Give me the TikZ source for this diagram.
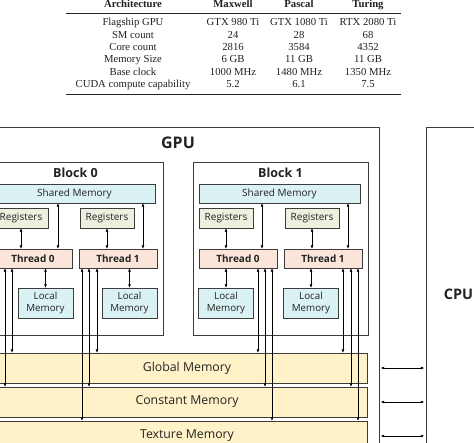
\documentclass[tikz,border=0pt]{standalone}
\usepackage{fontspec}
\setmainfont{Open Sans}
\newfontfamily\tabfont{Liberation Serif}
\usetikzlibrary{arrows.meta,calc}
\definecolor{cyanfill}{HTML}{DAF2F3}
\definecolor{regfill}{HTML}{EBF1DE}
\definecolor{thrfill}{HTML}{FBE4DA}
\definecolor{memfill}{HTML}{FFF2C9}
\definecolor{edge}{HTML}{3C3C3C}
\definecolor{ink}{HTML}{222222}
\begin{document}
\begin{tikzpicture}[x=1pt,y=-1pt,
  box/.style={draw=edge, line width=0.7pt, inner sep=0pt, outer sep=0pt, text=ink, font=\fontsize{10}{12}\selectfont},
  shared/.style={box, fill=cyanfill, minimum width=161pt, minimum height=19pt},
  reg/.style={box, fill=regfill, minimum width=54pt, minimum height=20pt},
  thr/.style={box, fill=thrfill, minimum width=78pt, minimum height=19pt, font=\fontsize{10}{12}\selectfont\bfseries},
  loc/.style={box, fill=cyanfill, minimum width=55pt, minimum height=30pt, align=center, font=\fontsize{9.8}{12.7}\selectfont},
  mem/.style={box, fill=memfill, minimum width=387pt, minimum height=30pt},
  memtxt/.style={inner sep=0pt, text=ink, font=\fontsize{12.3}{14}\selectfont},
  blk/.style={draw=edge, line width=0.7pt, minimum width=175pt, minimum height=173pt, inner sep=0pt, outer sep=0pt},
  blklbl/.style={inner sep=0pt, text=ink, font=\fontsize{12.5}{14}\selectfont\bfseries},
  outerbox/.style={draw=edge, line width=0.8pt, inner sep=0pt, outer sep=0pt},
  arr/.style={{Latex[length=3.6pt,width=2.8pt]}-{Latex[length=3.6pt,width=2.8pt]}, line width=0.65pt, draw=black},
  tab/.style={inner sep=0pt, anchor=base, text=ink, font=\tabfont\fontsize{10.7}{12}\selectfont},
  tabh/.style={tab, font=\tabfont\bfseries\fontsize{10.7}{12}\selectfont},
  rulestyle/.style={line width=0.8pt, draw=ink}
]
\clip (0,0) rectangle (474,443);
\fill[white] (0,0) rectangle (474,443);

% ---------- table ----------
\node[tabh] (h0) at (133,7.5) {Architecture};
\node[tabh] (h1) at (233,7.5) {Maxwell};
\node[tabh] (h2) at (299,7.5) {Pascal};
\node[tabh] (h3) at (368,7.5) {Turing};
\draw[rulestyle] (66,13) -- (401,13);
\node[tab] (a0) at (133,26) {Flagship GPU};
\node[tab] (a1) at (233,26) {GTX 980 Ti};
\node[tab] (a2) at (299,26) {GTX 1080 Ti};
\node[tab] (a3) at (368,26) {RTX 2080 Ti};
\node[tab] (b0r) at (133,38.3) {SM count};
\node[tab] (b1r) at (233,38.3) {24};
\node[tab] (b2r) at (299,38.3) {28};
\node[tab] (b3r) at (368,38.3) {68};
\node[tab] (c0) at (133,50.6) {Core count};
\node[tab] (c1) at (233,50.6) {2816};
\node[tab] (c2) at (299,50.6) {3584};
\node[tab] (c3) at (368,50.6) {4352};
\node[tab] (d0) at (133,62.9) {Memory Size};
\node[tab] (d1) at (233,62.9) {6 GB};
\node[tab] (d2) at (299,62.9) {11 GB};
\node[tab] (d3) at (368,62.9) {11 GB};
\node[tab] (e0) at (133,75.2) {Base clock};
\node[tab] (e1) at (233,75.2) {1000 MHz};
\node[tab] (e2) at (299,75.2) {1480 MHz};
\node[tab] (e3) at (368,75.2) {1350 MHz};
\node[tab] (f0) at (133,87.5) {CUDA compute capability};
\node[tab] (f1) at (233,87.5) {5.2};
\node[tab] (f2) at (299,87.5) {6.1};
\node[tab] (f3) at (368,87.5) {7.5};
\draw[rulestyle] (66,94) -- (401,94);

% ---------- outer boxes ----------
\node[outerbox, minimum width=389pt, minimum height=333pt] (gpu) at (184.5,293.5) {};
\node[outerbox, minimum width=84pt, minimum height=333pt] (cpu) at (468,293.5) {};
\node[inner sep=0pt, text=ink, font=\fontsize{14.5}{17}\selectfont\bfseries] (cpulbl) at (458.5,294) {CPU};
\node[inner sep=0pt, text=ink, font=\fontsize{16}{19}\selectfont\bfseries] (gpulbl) at (178,143) {GPU};

% ---------- blocks ----------
\node[blk] (blk0) at (75.5,248.5) {};
\node[blk] (blk1) at (280.5,248.5) {};
\node[blklbl] (blk0l) at (75.5,173) {Block 0};
\node[blklbl] (blk1l) at (280.5,173) {Block 1};

\node[shared] (s0) at (74.5,193.5) {Shared Memory};
\node[shared] (s1) at (279.5,193.5) {Shared Memory};

\node[reg] (r00) at (21,218) {Registers};
\node[reg] (r01) at (107,218) {Registers};
\node[reg] (r10) at (226,218) {Registers};
\node[reg] (r11) at (312,218) {Registers};

\node[thr] (t00) at (33,258.5) {Thread 0};
\node[thr] (t01) at (118,258.5) {Thread 1};
\node[thr] (t10) at (238,258.5) {Thread 0};
\node[thr] (t11) at (323,258.5) {Thread 1};

\node[loc] (l00) at (45.5,303) {Local\\Memory};
\node[loc] (l01) at (129.5,303) {Local\\Memory};
\node[loc] (l10) at (226,303) {Local\\Memory};
\node[loc] (l11) at (311,303) {Local\\Memory};

% ---------- memories ----------
\node[mem] (gm) at (173.5,368) {};
\node[mem] (cm) at (173.5,402) {};
\node[mem] (tm) at (173.5,436) {};
\node[memtxt] (gmt) at (187,368) {Global Memory};
\node[memtxt] (cmt) at (187,402) {Constant Memory};
\node[memtxt] (tmt) at (187,436) {Texture Memory};

% ---------- arrows: registers <-> threads ----------
\draw[arr] (r00.south) -- (r00.south |- t00.north);
\draw[arr] (r01.south) -- (r01.south |- t01.north);
\draw[arr] (r10.south) -- (r10.south |- t10.north);
\draw[arr] (r11.south) -- (r11.south |- t11.north);

% shared <-> threads
\draw[arr] ($(t00.north)+(25,0)$) -- ($(s0.south -| t00.north)+(25,0)$);
\draw[arr] ($(t01.north)+(25,0)$) -- ($(s0.south -| t01.north)+(25,0)$);
\draw[arr] ($(t10.north)+(24,0)$) -- ($(s1.south -| t10.north)+(24,0)$);
\draw[arr] ($(t11.north)+(25,0)$) -- ($(s1.south -| t11.north)+(25,0)$);

% threads <-> local
\draw[arr] (l00.north) -- (l00.north |- t00.south);
\draw[arr] (l01.north) -- (l01.north |- t01.south);
\draw[arr] (l10.north) -- (l10.north |- t10.south);
\draw[arr] (l11.north) -- (l11.north |- t11.south);

% threads <-> global / constant / texture
\draw[arr] ($(t00.south)+(-21,0)$) -- ($(gm.north -| t00.south)+(-21,0)$);
\draw[arr] ($(t00.south)+(-28,0)$) -- ($(cm.north -| t00.south)+(-28,0)$);
\draw[arr] ($(t00.south)+(-35,0)$) -- ($(tm.north -| t00.south)+(-35,0)$);
\draw[arr] ($(t01.south)+(-21,0)$) -- ($(gm.north -| t01.south)+(-21,0)$);
\draw[arr] ($(t01.south)+(-29,0)$) -- ($(cm.north -| t01.south)+(-29,0)$);
\draw[arr] ($(t01.south)+(-36,0)$) -- ($(tm.north -| t01.south)+(-36,0)$);
\draw[arr] ($(t10.south)+(20,0)$) -- ($(gm.north -| t10.south)+(20,0)$);
\draw[arr] ($(t10.south)+(27,0)$) -- ($(cm.north -| t10.south)+(27,0)$);
\draw[arr] ($(t10.south)+(34,0)$) -- ($(tm.north -| t10.south)+(34,0)$);
\draw[arr] ($(t11.south)+(20,0)$) -- ($(gm.north -| t11.south)+(20,0)$);
\draw[arr] ($(t11.south)+(28,0)$) -- ($(cm.north -| t11.south)+(28,0)$);
\draw[arr] ($(t11.south)+(35,0)$) -- ($(tm.north -| t11.south)+(35,0)$);

% GPU <-> CPU
\draw[arr, shorten <=1.5pt, shorten >=1.5pt] (gm.east -| gpu.east) -- (gm.east -| cpu.west);
\draw[arr, shorten <=1.5pt, shorten >=1.5pt] (cm.east -| gpu.east) -- (cm.east -| cpu.west);
\draw[arr, shorten <=1.5pt, shorten >=1.5pt] (tm.east -| gpu.east) -- (tm.east -| cpu.west);
\end{tikzpicture}
\end{document}
